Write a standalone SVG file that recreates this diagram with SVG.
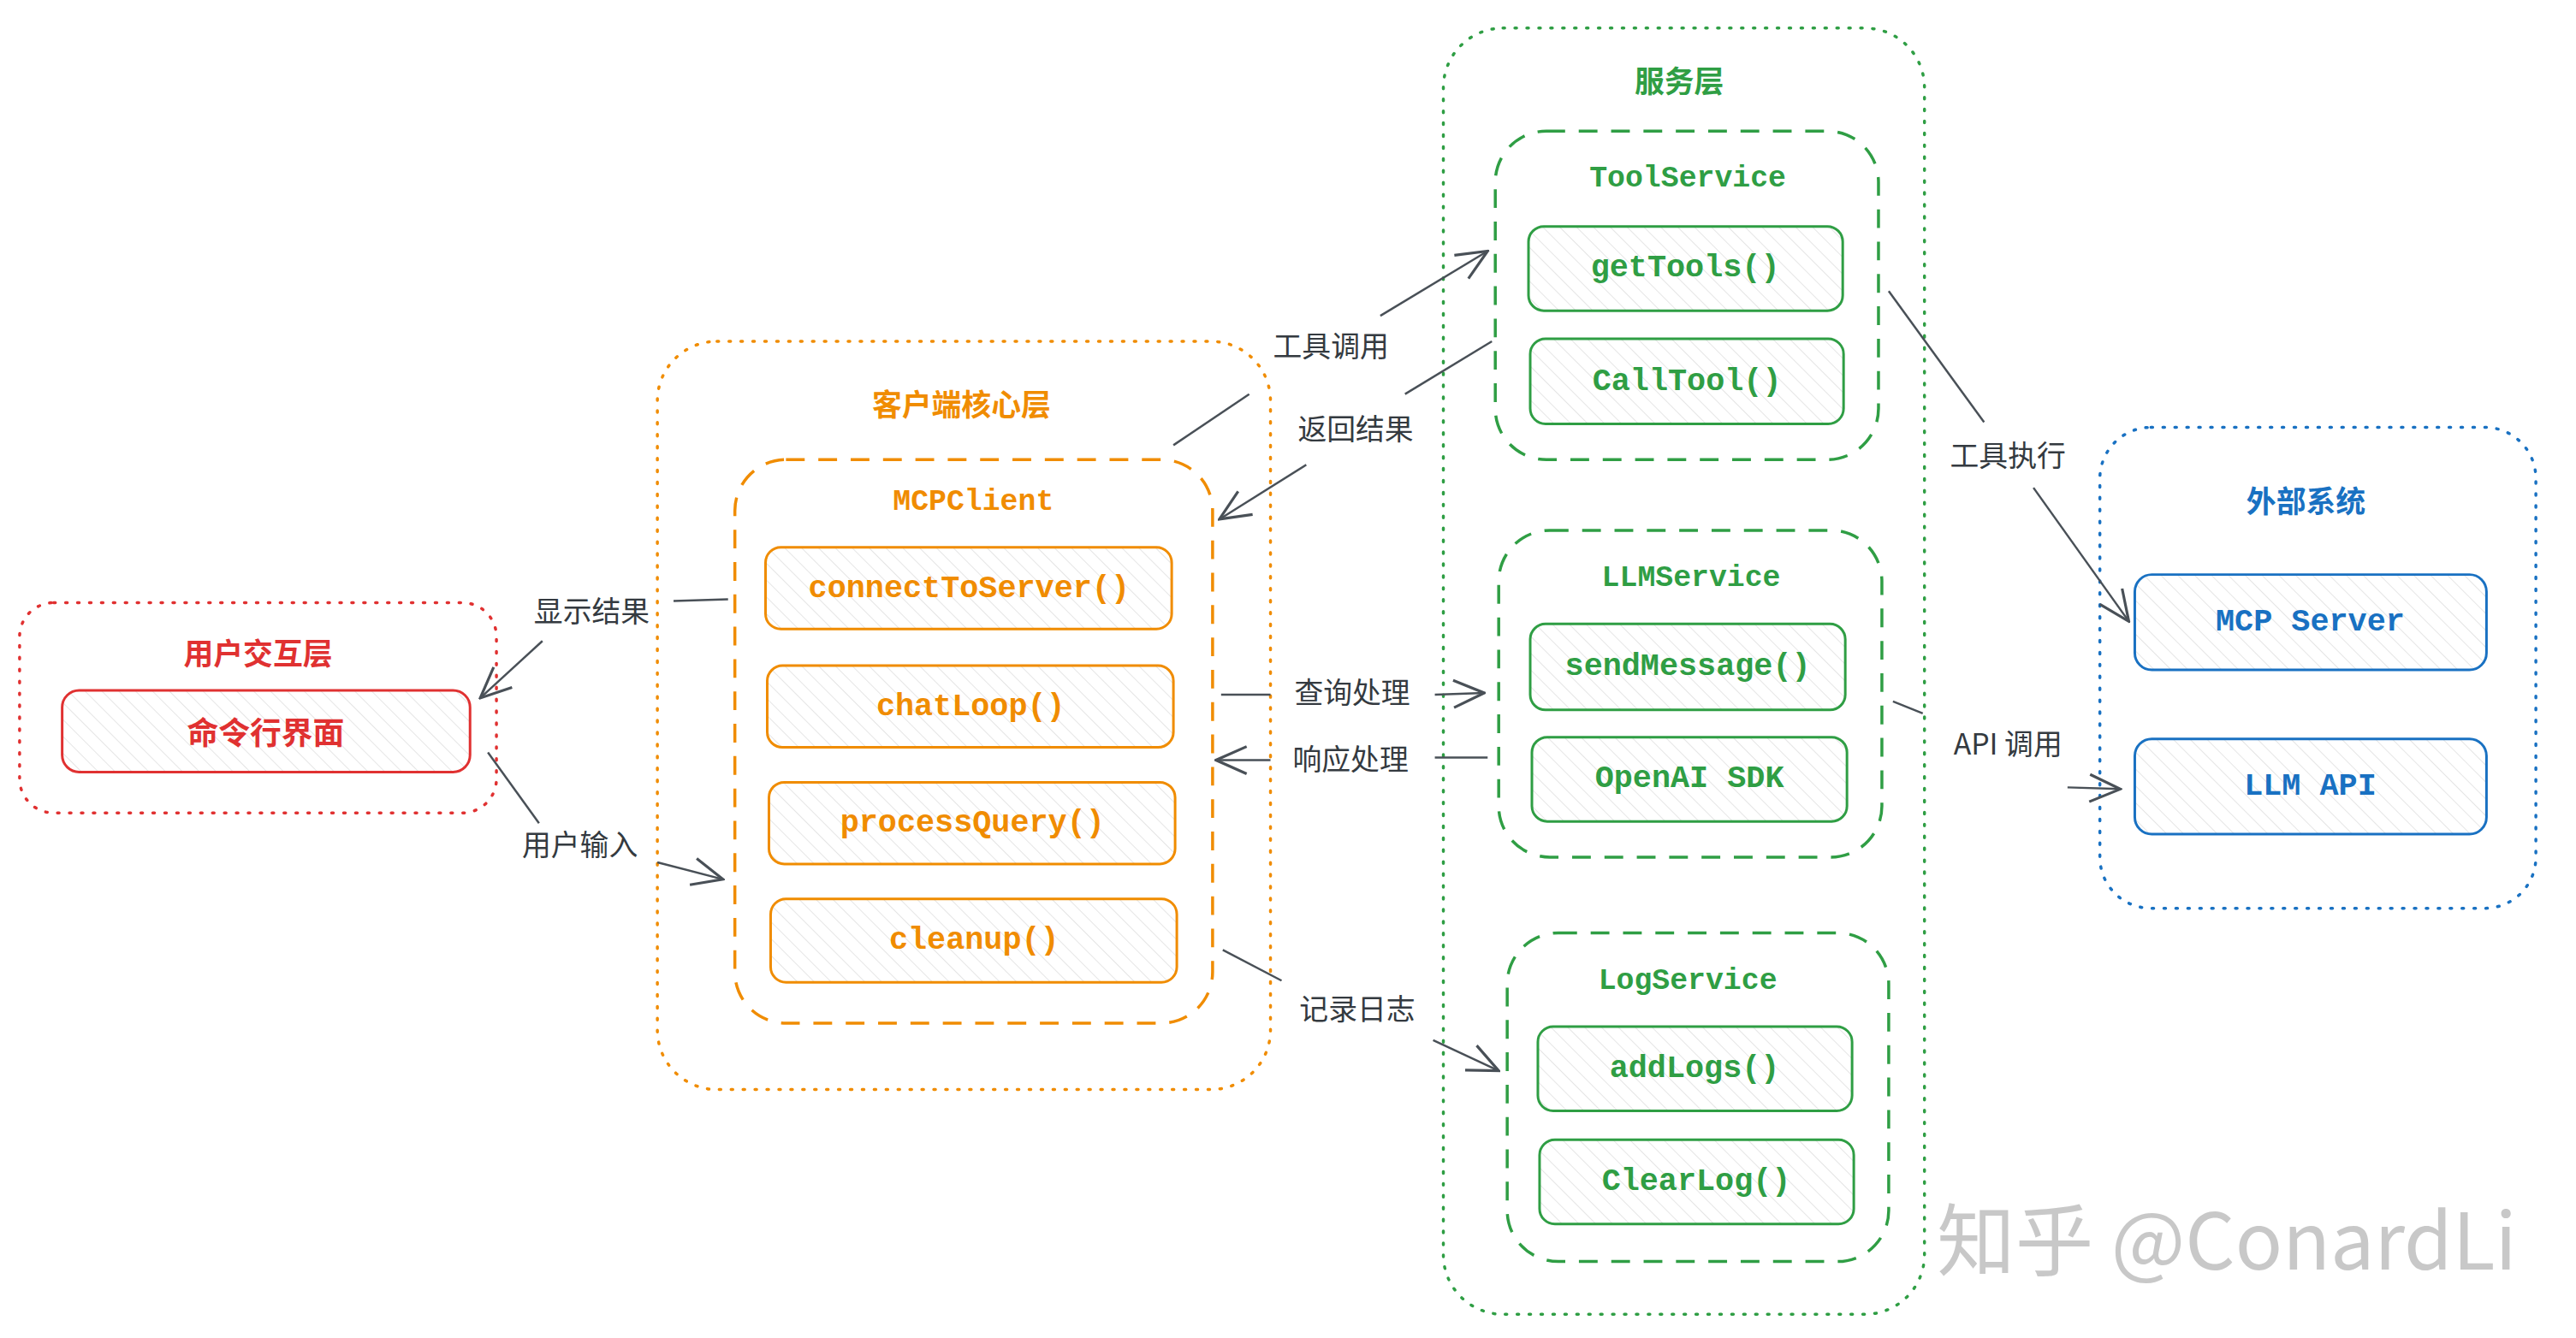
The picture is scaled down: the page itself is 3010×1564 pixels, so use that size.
<svg xmlns="http://www.w3.org/2000/svg" width="3010" height="1564" viewBox="0 0 3010 1564">
<defs>
<pattern id="h" width="14" height="14" patternUnits="userSpaceOnUse" patternTransform="rotate(-45)"><line x1="0" y1="0" x2="0" y2="14" stroke="#ddd" stroke-width="1.5"/></pattern>
<marker id="a" viewBox="0 0 20 20" refX="19" refY="10" markerWidth="40" markerHeight="40" markerUnits="userSpaceOnUse" orient="auto"><path d="M1,2 L19,10 L1,18" fill="none" stroke="#495057" stroke-width="1.6"/></marker>
</defs>
<style>
text{font-family:"Liberation Mono","Noto Sans CJK SC",monospace;font-weight:bold;text-anchor:middle;dominant-baseline:central}
.cn{font-family:"Noto Sans CJK SC",sans-serif}
.lb{font-family:"Noto Sans CJK SC",sans-serif;font-weight:normal;fill:#343a40;font-size:34px}
.grp{fill:none;stroke-width:3.5;stroke-dasharray:2 12;stroke-linecap:round}
.sub{fill:none;stroke-width:3.5;stroke-dasharray:22 16}
.box{fill:url(#h);stroke-width:3}
.rt{fill:#e03131}.ot{fill:#f08c00}.gt{fill:#2f9e44}.bt{fill:#1971c2}
.m{font-size:37px}.t{font-size:35px}
#conn line{stroke:#495057;stroke-width:2.5}
</style>
<g transform="scale(0.995)">
<g id="user">
<rect class="grp" x="23" y="708" width="560" height="247" rx="40" stroke="#e03131"/>
<text class="cn rt t" x="303" y="766">用户交互层</text>
<rect class="box" x="73" y="811" width="479" height="96" rx="20" stroke="#e03131"/>
<text class="cn rt m" x="312" y="858">命令行界面</text>
</g>
<g id="client">
<rect class="grp" x="772" y="401" width="720" height="879" rx="70" stroke="#f08c00"/>
<text class="cn ot t" x="1129" y="473">客户端核心层</text>
<rect class="sub" x="863" y="540" width="561" height="662" rx="60" stroke="#f08c00"/>
<text class="ot t" x="1143" y="589">MCPClient</text>
<rect class="box" x="899" y="643" width="477" height="96" rx="18" stroke="#f08c00"/>
<text class="ot m" x="1138" y="691">connectToServer()</text>
<rect class="box" x="901" y="782" width="477" height="96" rx="18" stroke="#f08c00"/>
<text class="ot m" x="1140" y="830">chatLoop()</text>
<rect class="box" x="903" y="919" width="477" height="96" rx="18" stroke="#f08c00"/>
<text class="ot m" x="1142" y="967">processQuery()</text>
<rect class="box" x="905" y="1056" width="477" height="98" rx="18" stroke="#f08c00"/>
<text class="ot m" x="1144" y="1105">cleanup()</text>
</g>
<g id="service">
<rect class="grp" x="1695" y="33" width="565" height="1511" rx="70" stroke="#2f9e44"/>
<text class="cn gt t" x="1972" y="93">服务层</text>
<rect class="sub" x="1756" y="154" width="450" height="386" rx="60" stroke="#2f9e44"/>
<text class="gt t" x="1982" y="210">ToolService</text>
<rect class="box" x="1795" y="266" width="369" height="99" rx="18" stroke="#2f9e44"/>
<text class="gt m" x="1979" y="315">getTools()</text>
<rect class="box" x="1797" y="398" width="368" height="100" rx="18" stroke="#2f9e44"/>
<text class="gt m" x="1981" y="448">CallTool()</text>
<rect class="sub" x="1760" y="623" width="450" height="384" rx="60" stroke="#2f9e44"/>
<text class="gt t" x="1986" y="679">LLMService</text>
<rect class="box" x="1797" y="733" width="370" height="101" rx="18" stroke="#2f9e44"/>
<text class="gt m" x="1982" y="783">sendMessage()</text>
<rect class="box" x="1799" y="866" width="370" height="99" rx="18" stroke="#2f9e44"/>
<text class="gt m" x="1984" y="915">OpenAI SDK</text>
<rect class="sub" x="1770" y="1096" width="448" height="386" rx="60" stroke="#2f9e44"/>
<text class="gt t" x="1982" y="1152">LogService</text>
<rect class="box" x="1806" y="1206" width="369" height="99" rx="18" stroke="#2f9e44"/>
<text class="gt m" x="1990" y="1255">addLogs()</text>
<rect class="box" x="1808" y="1339" width="369" height="99" rx="18" stroke="#2f9e44"/>
<text class="gt m" x="1992" y="1388">ClearLog()</text>
</g>
<g id="external">
<rect class="grp" x="2466" y="502" width="512" height="565" rx="60" stroke="#1971c2"/>
<text class="cn bt t" x="2708" y="587">外部系统</text>
<rect class="box" x="2507" y="675" width="413" height="112" rx="20" stroke="#1971c2"/>
<text class="bt m" x="2713" y="731">MCP Server</text>
<rect class="box" x="2507" y="868" width="413" height="112" rx="20" stroke="#1971c2"/>
<text class="bt m" x="2713" y="924">LLM API</text>
</g>
<g id="conn">
<line x1="855" y1="704" x2="791" y2="706"/><text class="lb" x="695" y="716">显示结果</text><line x1="637" y1="753" x2="564" y2="820" marker-end="url(#a)"/>
<line x1="573" y1="884" x2="633" y2="967"/><text class="lb" x="681" y="990">用户输入</text><line x1="772" y1="1013" x2="849" y2="1033" marker-end="url(#a)"/>
<line x1="1378" y1="523" x2="1467" y2="463"/><text class="lb" x="1563" y="405">工具调用</text><line x1="1621" y1="371" x2="1747" y2="295" marker-end="url(#a)"/>
<line x1="1752" y1="401" x2="1650" y2="463"/><text class="lb" x="1592" y="502">返回结果</text><line x1="1534" y1="546" x2="1432" y2="610" marker-end="url(#a)"/>
<line x1="1434" y1="816" x2="1492" y2="816"/><text class="lb" x="1588" y="812">查询处理</text><line x1="1685" y1="816" x2="1743" y2="814" marker-end="url(#a)"/>
<line x1="1747" y1="890" x2="1685" y2="890"/><text class="lb" x="1586" y="890">响应处理</text><line x1="1492" y1="893" x2="1428" y2="893" marker-end="url(#a)"/>
<line x1="1436" y1="1116" x2="1505" y2="1152"/><text class="lb" x="1594" y="1183">记录日志</text><line x1="1683" y1="1222" x2="1760" y2="1258" marker-end="url(#a)"/>
<line x1="2218" y1="342" x2="2330" y2="496"/><text class="lb" x="2358" y="533">工具执行</text><line x1="2388" y1="573" x2="2500" y2="730" marker-end="url(#a)"/>
<line x1="2223" y1="824" x2="2258" y2="838"/><text class="lb" x="2358" y="872">API 调用</text><line x1="2428" y1="925" x2="2490" y2="927" marker-end="url(#a)"/>
</g>
<text x="2615" y="1451" style="font-family:'Noto Sans CJK SC',sans-serif;font-weight:normal;font-size:92px;fill:#bbb;opacity:0.8">知乎 @ConardLi</text>
</g>
</svg>
